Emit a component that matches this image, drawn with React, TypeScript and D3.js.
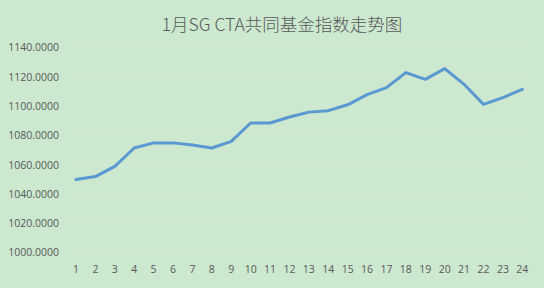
import React from "react";
import * as d3 from "d3";

const categories: string[] = Array.from({ length: 24 }, (_, i) => String(i + 1));
const values: number[] = [
  1050, 1052, 1059, 1071.5, 1075, 1075, 1073.6, 1071.5, 1076, 1088.6, 1088.6, 1092.7,
  1096, 1097, 1101, 1108, 1112.7, 1123, 1118.4, 1125.7, 1115, 1101.3, 1105.9, 1111.6,
];
const yTicks: number[] = [1000, 1020, 1040, 1060, 1080, 1100, 1120, 1140];
const title = "1月SG CTA共同基金指数走势图";

const W = 544;
const H = 288;
const left = 66.3;
const right = 532;
const top = 47.7;
const bottom = 252.7;

export default function App() {
  const x = d3.scaleBand<string>().domain(categories).range([left, right]);
  const y = d3.scaleLinear().domain([1000, 1140]).range([bottom, top]);
  const line = d3
    .line<number>()
    .x((_, i) => (x(categories[i]) as number) + x.bandwidth() / 2)
    .y((d) => y(d));
  const numFont = "'Open Sans', 'Noto Sans', sans-serif";
  return (
    <svg
      width={W}
      height={H}
      style={{ position: "absolute", left: 0, top: 0, display: "block" }}
    >
      <rect x={0} y={0} width={W} height={H} fill="#cce8cf" />
      <text
        x={282}
        y={30.5}
        textAnchor="middle"
        fontFamily="'Noto Sans CJK SC', sans-serif"
        fontSize={17.5}
        fontWeight={300}
        fill="#595959"
      >
        {title}
      </text>
      {yTicks.map((t) => (
        <g key={t}>
          <line
            x1={left}
            x2={right}
            y1={y(t)}
            y2={y(t)}
            stroke="#d3ead6"
            strokeWidth={1}
          />
          <text
            x={59}
            y={y(t)}
            dy="0.35em"
            textAnchor="end"
            fontFamily={numFont}
            fontSize={10.5}
            fill="#595959"
          >
            {d3.format(".4f")(t)}
          </text>
        </g>
      ))}
      {categories.map((c) => (
        <text
          key={c}
          x={(x(c) as number) + x.bandwidth() / 2}
          y={269}
          dy="0.35em"
          textAnchor="middle"
          fontFamily={numFont}
          fontSize={10.5}
          fill="#595959"
        >
          {c}
        </text>
      ))}
      <path
        d={line(values) || ""}
        fill="none"
        stroke="#5a98d2"
        strokeWidth={3}
        strokeLinejoin="round"
        strokeLinecap="round"
      />
    </svg>
  );
}
